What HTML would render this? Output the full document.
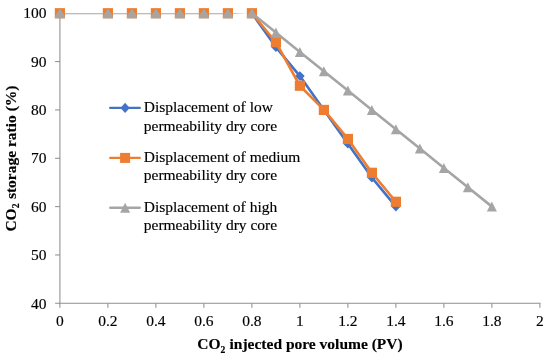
<!DOCTYPE html><html><head><meta charset="utf-8"><title>chart</title><style>html,body{margin:0;padding:0;background:#fff;overflow:hidden}svg{display:block}text{font-family:"Liberation Serif","Times New Roman",serif;fill:#000;stroke:#000;stroke-width:0.15px}</style></head><body>
<svg width="550" height="358" viewBox="0 0 550 358">
<rect width="550" height="358" fill="#fff"/>
<defs><clipPath id="plot"><rect x="59.9" y="13.25" width="482.0" height="290.05"/></clipPath></defs>
<g stroke="#989898" stroke-width="1.15" fill="none">
<path d="M59.9 12.75V307.8"/>
<path d="M55.1 303.3H540.5" stroke-width="1.05" stroke="#8e8e8e"/>
<path d="M55.10 254.96H59.9" stroke-width="1.05" stroke="#8e8e8e"/>
<path d="M55.10 206.62H59.9" stroke-width="1.05" stroke="#8e8e8e"/>
<path d="M55.10 158.28H59.9" stroke-width="1.05" stroke="#8e8e8e"/>
<path d="M55.10 109.93H59.9" stroke-width="1.05" stroke="#8e8e8e"/>
<path d="M55.10 61.59H59.9" stroke-width="1.05" stroke="#8e8e8e"/>
<path d="M55.10 13.25H59.9" stroke-width="1.05" stroke="#8e8e8e"/>
<path d="M107.90 303.3v4.5"/>
<path d="M155.90 303.3v4.5"/>
<path d="M203.90 303.3v4.5"/>
<path d="M251.90 303.3v4.5"/>
<path d="M299.90 303.3v4.5"/>
<path d="M347.90 303.3v4.5"/>
<path d="M395.90 303.3v4.5"/>
<path d="M443.90 303.3v4.5"/>
<path d="M491.90 303.3v4.5"/>
<path d="M539.90 303.3v4.5"/>
</g>
<text x="46.6" y="308.50" font-size="15.5" text-anchor="end">40</text>
<text x="46.6" y="260.16" font-size="15.5" text-anchor="end">50</text>
<text x="46.6" y="211.82" font-size="15.5" text-anchor="end">60</text>
<text x="46.6" y="163.47" font-size="15.5" text-anchor="end">70</text>
<text x="46.6" y="115.13" font-size="15.5" text-anchor="end">80</text>
<text x="46.6" y="66.79" font-size="15.5" text-anchor="end">90</text>
<text x="46.6" y="18.45" font-size="15.5" text-anchor="end">100</text>
<text x="59.90" y="326.45" font-size="15.5" text-anchor="middle">0</text>
<text x="107.90" y="326.45" font-size="15.5" text-anchor="middle">0.2</text>
<text x="155.90" y="326.45" font-size="15.5" text-anchor="middle">0.4</text>
<text x="203.90" y="326.45" font-size="15.5" text-anchor="middle">0.6</text>
<text x="251.90" y="326.45" font-size="15.5" text-anchor="middle">0.8</text>
<text x="299.90" y="326.45" font-size="15.5" text-anchor="middle">1</text>
<text x="347.90" y="326.45" font-size="15.5" text-anchor="middle">1.2</text>
<text x="395.90" y="326.45" font-size="15.5" text-anchor="middle">1.4</text>
<text x="443.90" y="326.45" font-size="15.5" text-anchor="middle">1.6</text>
<text x="491.90" y="326.45" font-size="15.5" text-anchor="middle">1.8</text>
<text x="539.90" y="326.45" font-size="15.5" text-anchor="middle">2</text>
<text x="197.2" y="349.4" font-size="15.5" font-weight="bold">CO<tspan font-size="9.6" dy="3.4">2</tspan></text>
<text x="402.7" y="349.4" font-size="15.5" font-weight="bold" text-anchor="end">injected pore volume (PV)</text>
<g transform="translate(15.6,158.7) rotate(-90)"><text x="-72.9" y="0" font-size="15.5" font-weight="bold">CO<tspan font-size="9.6" dy="3.4">2</tspan></text><text x="73.2" y="0" font-size="15.5" font-weight="bold" text-anchor="end">storage ratio (%)</text></g>
<path d="M251.90 13.25 L275.90 47.09 L299.90 76.09 L323.90 109.93 L347.90 143.77 L371.90 177.61 L395.90 206.62" stroke="#4472c4" stroke-width="2.6" fill="none" stroke-linejoin="round" stroke-linecap="round" clip-path="url(#plot)"/>
<path d="M59.90 8.45L64.70 13.25L59.90 18.05L55.10 13.25Z" fill="#4472c4"/>
<path d="M107.90 8.45L112.70 13.25L107.90 18.05L103.10 13.25Z" fill="#4472c4"/>
<path d="M131.90 8.45L136.70 13.25L131.90 18.05L127.10 13.25Z" fill="#4472c4"/>
<path d="M155.90 8.45L160.70 13.25L155.90 18.05L151.10 13.25Z" fill="#4472c4"/>
<path d="M179.90 8.45L184.70 13.25L179.90 18.05L175.10 13.25Z" fill="#4472c4"/>
<path d="M203.90 8.45L208.70 13.25L203.90 18.05L199.10 13.25Z" fill="#4472c4"/>
<path d="M227.90 8.45L232.70 13.25L227.90 18.05L223.10 13.25Z" fill="#4472c4"/>
<path d="M251.90 8.45L256.70 13.25L251.90 18.05L247.10 13.25Z" fill="#4472c4"/>
<path d="M275.90 42.29L280.70 47.09L275.90 51.89L271.10 47.09Z" fill="#4472c4"/>
<path d="M299.90 71.29L304.70 76.09L299.90 80.89L295.10 76.09Z" fill="#4472c4"/>
<path d="M323.90 105.13L328.70 109.93L323.90 114.73L319.10 109.93Z" fill="#4472c4"/>
<path d="M347.90 138.97L352.70 143.77L347.90 148.57L343.10 143.77Z" fill="#4472c4"/>
<path d="M371.90 172.81L376.70 177.61L371.90 182.41L367.10 177.61Z" fill="#4472c4"/>
<path d="M395.90 201.82L400.70 206.62L395.90 211.42L391.10 206.62Z" fill="#4472c4"/>
<path d="M251.90 13.25 L275.90 42.25 L299.90 85.76 L323.90 109.93 L347.90 138.94 L371.90 172.78 L395.90 201.78" stroke="#ed7d31" stroke-width="2.6" fill="none" stroke-linejoin="round" stroke-linecap="round" clip-path="url(#plot)"/>
<rect x="54.80" y="8.15" width="10.2" height="10.2" fill="#ed7d31"/>
<rect x="102.80" y="8.15" width="10.2" height="10.2" fill="#ed7d31"/>
<rect x="126.80" y="8.15" width="10.2" height="10.2" fill="#ed7d31"/>
<rect x="150.80" y="8.15" width="10.2" height="10.2" fill="#ed7d31"/>
<rect x="174.80" y="8.15" width="10.2" height="10.2" fill="#ed7d31"/>
<rect x="198.80" y="8.15" width="10.2" height="10.2" fill="#ed7d31"/>
<rect x="222.80" y="8.15" width="10.2" height="10.2" fill="#ed7d31"/>
<rect x="246.80" y="8.15" width="10.2" height="10.2" fill="#ed7d31"/>
<rect x="270.80" y="37.15" width="10.2" height="10.2" fill="#ed7d31"/>
<rect x="294.80" y="80.66" width="10.2" height="10.2" fill="#ed7d31"/>
<rect x="318.80" y="104.83" width="10.2" height="10.2" fill="#ed7d31"/>
<rect x="342.80" y="133.84" width="10.2" height="10.2" fill="#ed7d31"/>
<rect x="366.80" y="167.68" width="10.2" height="10.2" fill="#ed7d31"/>
<rect x="390.80" y="196.68" width="10.2" height="10.2" fill="#ed7d31"/>
<path d="M59.9 13.25H247.10L227.90 14.3H59.9Z" fill="#a5a5a5"/>
<path d="M251.90 13.25 L275.90 32.59 L299.90 51.92 L323.90 71.26 L347.90 90.60 L371.90 109.93 L395.90 129.27 L419.90 148.61 L443.90 167.94 L467.90 187.28 L491.90 206.62" stroke="#a5a5a5" stroke-width="2.6" fill="none" stroke-linejoin="round" stroke-linecap="round" clip-path="url(#plot)"/>
<path d="M59.90 8.25L64.90 16.45V18.25H54.90V16.45Z" fill="#a5a5a5"/>
<path d="M107.90 8.25L112.90 16.45V18.25H102.90V16.45Z" fill="#a5a5a5"/>
<path d="M131.90 8.25L136.90 16.45V18.25H126.90V16.45Z" fill="#a5a5a5"/>
<path d="M155.90 8.25L160.90 16.45V18.25H150.90V16.45Z" fill="#a5a5a5"/>
<path d="M179.90 8.25L184.90 16.45V18.25H174.90V16.45Z" fill="#a5a5a5"/>
<path d="M203.90 8.25L208.90 16.45V18.25H198.90V16.45Z" fill="#a5a5a5"/>
<path d="M227.90 8.25L232.90 16.45V18.25H222.90V16.45Z" fill="#a5a5a5"/>
<path d="M251.90 8.25L256.90 16.45V18.25H246.90V16.45Z" fill="#a5a5a5"/>
<path d="M275.90 27.59L280.90 37.59L270.90 37.59Z" fill="#a5a5a5"/>
<path d="M299.90 46.92L304.90 56.92L294.90 56.92Z" fill="#a5a5a5"/>
<path d="M323.90 66.26L328.90 76.26L318.90 76.26Z" fill="#a5a5a5"/>
<path d="M347.90 85.60L352.90 95.60L342.90 95.60Z" fill="#a5a5a5"/>
<path d="M371.90 104.93L376.90 114.93L366.90 114.93Z" fill="#a5a5a5"/>
<path d="M395.90 124.27L400.90 134.27L390.90 134.27Z" fill="#a5a5a5"/>
<path d="M419.90 143.61L424.90 153.61L414.90 153.61Z" fill="#a5a5a5"/>
<path d="M443.90 162.94L448.90 172.94L438.90 172.94Z" fill="#a5a5a5"/>
<path d="M467.90 182.28L472.90 192.28L462.90 192.28Z" fill="#a5a5a5"/>
<path d="M491.90 201.62L496.90 211.62L486.90 211.62Z" fill="#a5a5a5"/>
<path d="M110.2 107.9H139.8" stroke="#4472c4" stroke-width="2.3" stroke-linecap="round"/>
<path d="M125.1 102.80L129.70 107.9L125.1 113.00L120.50 107.9Z" fill="#4472c4"/>
<text x="143.75" y="112.30" font-size="15.5">Displacement of low</text>
<text x="143.75" y="130.50" font-size="15.5">permeability dry core</text>
<path d="M110.2 157.9H139.8" stroke="#ed7d31" stroke-width="2.3" stroke-linecap="round"/>
<rect x="120.10" y="152.90" width="10.0" height="10.0" fill="#ed7d31"/>
<text x="143.75" y="162.20" font-size="15.5">Displacement of medium</text>
<text x="143.75" y="180.40" font-size="15.5">permeability dry core</text>
<path d="M110.2 207.75H139.8" stroke="#a5a5a5" stroke-width="2.3" stroke-linecap="round"/>
<path d="M125.10 202.75L130.10 212.75L120.10 212.75Z" fill="#a5a5a5"/>
<text x="143.75" y="211.80" font-size="15.5">Displacement of high</text>
<text x="143.75" y="230.00" font-size="15.5">permeability dry core</text>
</svg></body></html>
